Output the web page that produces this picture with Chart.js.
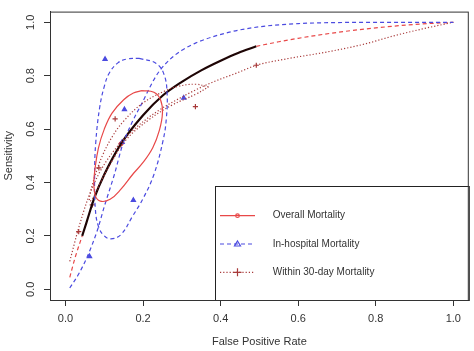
<!DOCTYPE html>
<html>
<head>
<meta charset="utf-8">
<script src="https://cdn.jsdelivr.net/npm/chart.js@4.4.1/dist/chart.umd.min.js"></script>
<style>
  html, body { margin: 0; padding: 0; background: #fff; }
  #wrap { width: 474px; height: 351px; }
</style>
</head>
<body>
<div id="wrap"><canvas id="sroc" width="474" height="351"></canvas></div>
<script>
// values, [false positive rate, sensitivity]
const tickValues = [0, 0.2, 0.4, 0.6, 0.8, 1.0];

const overallSroc = [[0.043,0.20],[0.054,0.25],[0.075,0.345],[0.10,0.43],[0.143,0.545],[0.2,0.652],[0.25,0.725],[0.3,0.777],[0.35,0.82],[0.4,0.856],[0.445,0.885],[0.492,0.91]];
const overallExtUpper = [[0.492,0.91],[0.55,0.927],[0.6,0.94],[0.7,0.962],[0.8,0.979],[0.9,0.992],[1,1]];
const overallExtLower = [[0.011,0.045],[0.025,0.12],[0.043,0.20]];
const overallEllipse = [[0.198,0.744],[0.228,0.738],[0.245,0.71],[0.25,0.66],[0.242,0.595],[0.225,0.53],[0.2,0.475],[0.173,0.43],[0.143,0.375],[0.115,0.337],[0.09,0.33],[0.077,0.35],[0.073,0.40],[0.076,0.45],[0.085,0.53],[0.1,0.6],[0.12,0.66],[0.15,0.71],[0.175,0.735],[0.198,0.744]];
const overallPts = [[0.143,0.545]];

const hospitalSroc = [[0.011,0.005],[0.035,0.06],[0.058,0.129],[0.083,0.225],[0.1,0.31],[0.126,0.43],[0.147,0.54],[0.17,0.62],[0.2,0.705],[0.224,0.775],[0.241,0.815],[0.27,0.862],[0.3,0.895],[0.335,0.922],[0.42,0.962],[0.505,0.984],[0.6,0.995],[0.7,0.999],[0.85,1],[1,1]];
const hospitalEllipse = [[0.19,0.865],[0.233,0.847],[0.254,0.805],[0.262,0.732],[0.26,0.64],[0.252,0.56],[0.228,0.43],[0.2,0.34],[0.173,0.274],[0.143,0.205],[0.117,0.189],[0.1,0.2],[0.085,0.235],[0.077,0.3],[0.075,0.43],[0.078,0.55],[0.088,0.68],[0.1,0.76],[0.113,0.81],[0.135,0.848],[0.16,0.863],[0.19,0.865]];
const hospitalPts = [[0.102,0.862],[0.152,0.674],[0.146,0.551],[0.305,0.717],[0.175,0.334],[0.062,0.123]];

const thirtySroc = [[0.011,0.105],[0.032,0.22],[0.058,0.34],[0.085,0.43],[0.12,0.51],[0.17,0.59],[0.23,0.66],[0.3,0.72],[0.37,0.77],[0.445,0.812],[0.492,0.839],[0.57,0.863],[0.675,0.889],[0.77,0.918],[0.846,0.949],[0.92,0.975],[1,1]];
const thirtyEllipse = [[0.369,0.758],[0.335,0.768],[0.29,0.76],[0.258,0.744],[0.198,0.696],[0.15,0.63],[0.122,0.575],[0.095,0.5],[0.075,0.42],[0.064,0.36],[0.062,0.33],[0.07,0.34],[0.09,0.40],[0.12,0.48],[0.156,0.56],[0.215,0.635],[0.275,0.69],[0.335,0.73],[0.369,0.758]];
const thirtyPts = [[0.128,0.638],[0.335,0.684],[0.086,0.455],[0.034,0.216],[0.492,0.839],[0.069,0.316],[0.143,0.545]];

const legendLabels = ["Overall Mortality", "In-hospital Mortality", "Within 30-day Mortality"];

const RED = '#e84848';
const BLUE = '#4b4be0';
const DARKRED = '#a83a3a';
const FONT = "'Liberation Sans', Arial, sans-serif";

const xy = arr => arr.map(p => ({x: p[0], y: p[1]}));

// closed loops get plain tension, the summary curves monotone interpolation
function loop(data, color, dash) {
    return {
        type: 'line', data: xy(data), borderColor: color, borderWidth: 1.2,
        borderDash: dash, pointRadius: 0, tension: 0.4, fill: false, showLine: true
    };
}
function curve(data, color, dash, width) {
    return {
        type: 'line', data: xy(data), borderColor: color, borderWidth: width,
        borderDash: dash, pointRadius: 0, cubicInterpolationMode: 'monotone',
        fill: false, showLine: true
    };
}
function marks(data, color, style, r) {
    return {
        type: 'scatter', data: xy(data), borderColor: color, backgroundColor: color,
        pointStyle: style, pointRadius: r, borderWidth: 1.2, showLine: false
    };
}

// R style legend box in the bottom right corner
const legendBox = {
    id: 'legendBox',
    afterDraw(chart) {
        const ctx = chart.ctx;
        const a = chart.chartArea;
        const left = 215, top = 186;
        ctx.save();
        ctx.strokeStyle = '#222';
        ctx.lineWidth = 1;
        ctx.strokeRect(left + 0.5, top + 0.5, a.right - left, a.bottom - top);
        const rows = [215.7, 244, 272.3];
        const styles = [[RED, []], [BLUE, [4, 3]], [DARKRED, [1.2, 2]]];
        rows.forEach((y, i) => {
            ctx.strokeStyle = styles[i][0];
            ctx.lineWidth = 1.2;
            ctx.setLineDash(styles[i][1]);
            ctx.beginPath(); ctx.moveTo(220, y); ctx.lineTo(255, y); ctx.stroke();
            ctx.setLineDash([]);
            ctx.beginPath();
            if (i === 0) { ctx.arc(237.5, y, 1.8, 0, Math.PI * 2); }
            else if (i === 1) { ctx.moveTo(237.5, y - 3); ctx.lineTo(240.5, y + 2); ctx.lineTo(234.5, y + 2); ctx.closePath(); }
            else { ctx.moveTo(233.5, y); ctx.lineTo(241.5, y); ctx.moveTo(237.5, y - 4); ctx.lineTo(237.5, y + 4); }
            ctx.stroke();
            ctx.fillStyle = '#333';
            ctx.font = '10px ' + FONT;
            ctx.textBaseline = 'middle';
            ctx.fillText(legendLabels[i], 272.7, y);
        });
        // frame of the plot region
        ctx.strokeStyle = '#333';
        ctx.lineWidth = 1;
        ctx.strokeRect(a.left + 0.5, a.top + 0.5, a.right - a.left - 1, a.bottom - a.top);
        ctx.restore();
    }
};

const fixTicks = scale => { scale.ticks = tickValues.map(v => ({value: v})); };

new Chart(document.getElementById('sroc'), {
    type: 'scatter',
    data: {
        datasets: [
            loop(overallEllipse, RED, []),
            loop(hospitalEllipse, BLUE, [4, 3]),
            loop(thirtyEllipse, DARKRED, [1.2, 2]),
            curve(hospitalSroc, BLUE, [4, 3], 1.2),
            curve(thirtySroc, DARKRED, [1.2, 2], 1.2),
            curve(overallExtUpper, RED, [4, 3], 1.2),
            curve(overallExtLower, RED, [4, 3], 1.2),
            curve(overallSroc, '#1e0505', [], 2.2),
            marks(hospitalPts, BLUE, 'triangle', 2.4),
            marks(thirtyPts, DARKRED, 'cross', 2.6),
            marks(overallPts, RED, 'circle', 1.8)
        ]
    },
    options: {
        responsive: false,
        devicePixelRatio: 1,
        animation: false,
        layout: { padding: { left: 0, right: 2, top: 2, bottom: 0 } },
        plugins: { legend: { display: false }, tooltip: { enabled: false } },
        scales: {
            x: {
                type: 'linear', min: -0.04, max: 1.04,
                afterBuildTicks: fixTicks,
                afterFit: s => { s.height = 51; },
                grid: { display: true, drawOnChartArea: false, drawTicks: true, tickLength: 6, color: '#333' },
                border: { display: true, color: '#333' },
                ticks: { color: '#333', font: { family: FONT, size: 11 }, padding: 6,
                         maxRotation: 0, callback: v => v.toFixed(1) },
                title: { display: true, text: 'False Positive Rate', color: '#333',
                         font: { family: FONT, size: 11 }, padding: { top: 0, bottom: 2 } }
            },
            y: {
                type: 'linear', min: -0.04, max: 1.04,
                afterBuildTicks: fixTicks,
                afterFit: s => { s.width = 50; },
                grid: { display: true, drawOnChartArea: false, drawTicks: true, tickLength: 6, color: '#333' },
                border: { display: true, color: '#333' },
                ticks: { color: '#333', font: { family: FONT, size: 11 }, padding: 5,
                         minRotation: 90, maxRotation: 90, crossAlign: 'center',
                         callback: v => v.toFixed(1) },
                title: { display: true, text: 'Sensitivity', color: '#333',
                         font: { family: FONT, size: 11 }, padding: { top: 2, bottom: 0 } }
            }
        }
    },
    plugins: [legendBox]
});
</script>
</body>
</html>
